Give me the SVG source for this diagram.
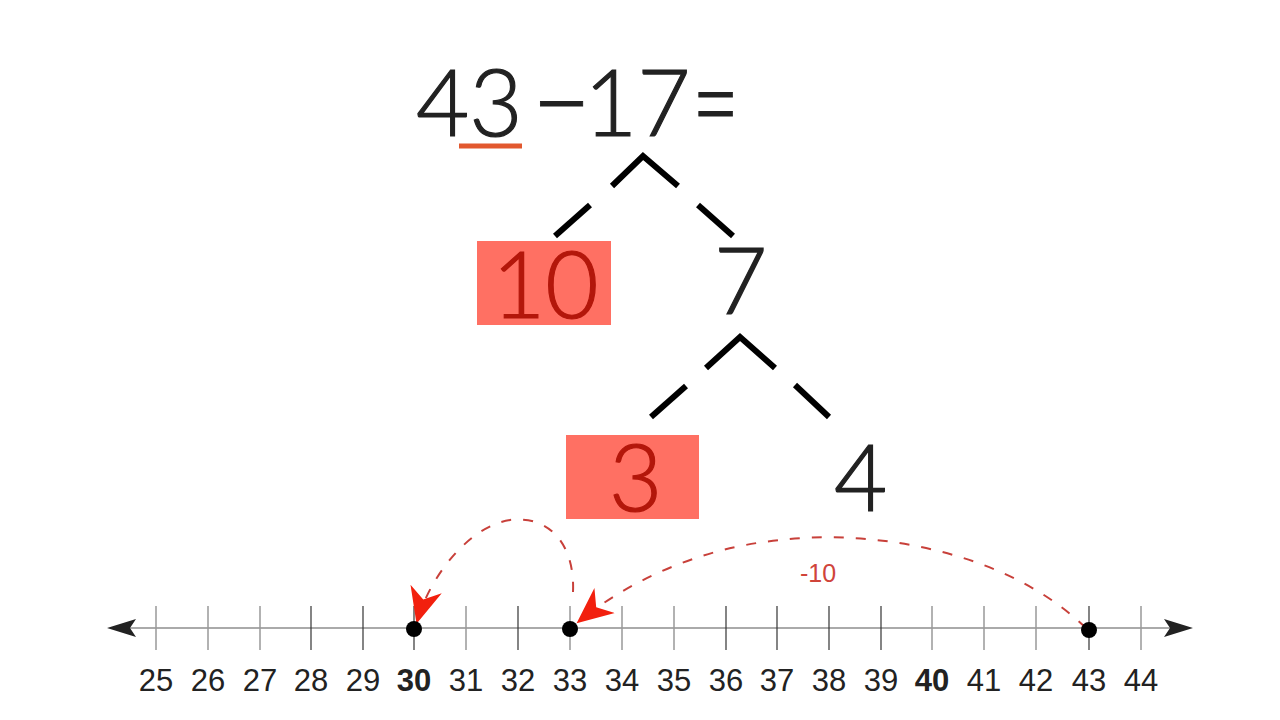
<svg xmlns="http://www.w3.org/2000/svg" width="1280" height="720" viewBox="0 0 1280 720">
<defs>
<style>
.big{font-family:"Lato","Liberation Sans",Arial,sans-serif;font-weight:300;font-size:92px;fill:#222;stroke:#222;stroke-width:1.2}
.sym{font-family:"Lato","Liberation Sans",Arial,sans-serif;font-weight:300;font-size:120px;fill:#222;stroke:#222;stroke-width:1}
.red{fill:#b3170b;stroke:#b3170b}
.box{fill:#ff7063}
.br{stroke:#000;stroke-width:6;fill:none;stroke-linecap:butt}
.num{font-family:"Liberation Sans",Arial,sans-serif;font-size:31px;fill:#222;text-anchor:middle}
.tk{stroke:#999;stroke-width:1.5}
.tkd{stroke:#333;stroke-width:1.2}
.arc{stroke:#c8403a;stroke-width:2;fill:none;stroke-dasharray:10 12}
</style>
<marker id="ah" viewBox="0 0 20 20" refX="19" refY="10" markerWidth="36" markerHeight="36" markerUnits="userSpaceOnUse" orient="auto">
<path d="M20,10 L0,1 L6,10 L0,19 Z" fill="#f2200e"/>
</marker>
</defs>
<rect width="1280" height="720" fill="#fff"/>
<g id="expr">
<text class="big" x="416" y="136">43</text>
<text class="sym" transform="translate(532,144) scale(0.85,1)">−</text>
<text class="big" x="584" y="136">17</text>
<text class="sym" transform="translate(692,145) scale(0.68,1)">=</text>
<line x1="459" y1="146" x2="522" y2="146" stroke="#e2582e" stroke-width="5"/>
</g>
<g id="connectors">
<polyline class="br" points="612,186 643,156 678,186"/>
<line class="br" x1="555" y1="236" x2="590" y2="205"/>
<line class="br" x1="698" y1="205" x2="733" y2="236"/>
<polyline class="br" points="706,368 740,337 775,368"/>
<line class="br" x1="651" y1="417" x2="686" y2="386"/>
<line class="br" x1="795" y1="385" x2="829" y2="417"/>
</g>
<g id="n10">
<rect class="box" x="477" y="241" width="134" height="84"/>
<text class="big red" x="492" y="318">10</text>
</g>
<g id="n7"><text class="big" x="714" y="314">7</text></g>
<g id="n3">
<rect class="box" x="566" y="435" width="133" height="84"/>
<text class="big red" x="609" y="511">3</text>
</g>
<g id="n4"><text class="big" x="834" y="511">4</text></g>
<g id="numberline">
<line x1="115" y1="628" x2="1185" y2="628" stroke="#aaa" stroke-width="2"/>
<path d="M107,628 L136,619 L130,628 L136,637 Z" fill="#222"/>
<path d="M1193,628 L1164,619 L1170,628 L1164,637 Z" fill="#222"/>
<g class="tk">
<line x1="156" y1="606" x2="156" y2="650"/><line x1="208" y1="606" x2="208" y2="650"/><line x1="260" y1="606" x2="260" y2="650"/>
<line x1="466" y1="606" x2="466" y2="650"/><line x1="570" y1="606" x2="570" y2="650"/><line x1="622" y1="606" x2="622" y2="650"/>
<line x1="674" y1="606" x2="674" y2="650"/><line x1="932" y1="606" x2="932" y2="650"/><line x1="984" y1="606" x2="984" y2="650"/>
<line x1="1036" y1="606" x2="1036" y2="650"/><line x1="1141" y1="606" x2="1141" y2="650"/>
</g>
<g class="tkd">
<line x1="311" y1="606" x2="311" y2="650"/><line x1="363" y1="606" x2="363" y2="650"/><line x1="414" y1="606" x2="414" y2="650"/>
<line x1="518" y1="606" x2="518" y2="650"/><line x1="726" y1="606" x2="726" y2="650"/><line x1="777" y1="606" x2="777" y2="650"/>
<line x1="829" y1="606" x2="829" y2="650"/><line x1="881" y1="606" x2="881" y2="650"/><line x1="1089" y1="606" x2="1089" y2="650"/>
</g>
<text class="num" x="156" y="691">25</text><text class="num" x="208" y="691">26</text><text class="num" x="260" y="691">27</text>
<text class="num" x="311" y="691">28</text><text class="num" x="363" y="691">29</text><text class="num" x="414" y="691" font-weight="bold">30</text>
<text class="num" x="466" y="691">31</text><text class="num" x="518" y="691">32</text><text class="num" x="570" y="691">33</text>
<text class="num" x="622" y="691">34</text><text class="num" x="674" y="691">35</text><text class="num" x="726" y="691">36</text>
<text class="num" x="777" y="691">37</text><text class="num" x="829" y="691">38</text><text class="num" x="881" y="691">39</text>
<text class="num" x="932" y="691" font-weight="bold">40</text><text class="num" x="984" y="691">41</text><text class="num" x="1036" y="691">42</text>
<text class="num" x="1089" y="691">43</text><text class="num" x="1141" y="691">44</text>
</g>
<g id="jumps">
<path class="arc" d="M1086,628 C1000,545 860,530 780,540 C700,548 630,580 578,622" marker-end="url(#ah)"/>
<path class="arc" d="M573,592 C575,545 550,515 510,520 C470,526 430,575 417,622" marker-end="url(#ah)"/>
<text x="818" y="582" font-family="Liberation Sans Narrow,Liberation Sans,Arial,sans-serif" font-size="25" fill="#d0443a" text-anchor="middle">-10</text>
</g>
<g id="dots" fill="#000">
<circle cx="414" cy="629" r="8"/><circle cx="570" cy="629" r="8"/><circle cx="1089" cy="630" r="8"/>
</g>
</svg>
